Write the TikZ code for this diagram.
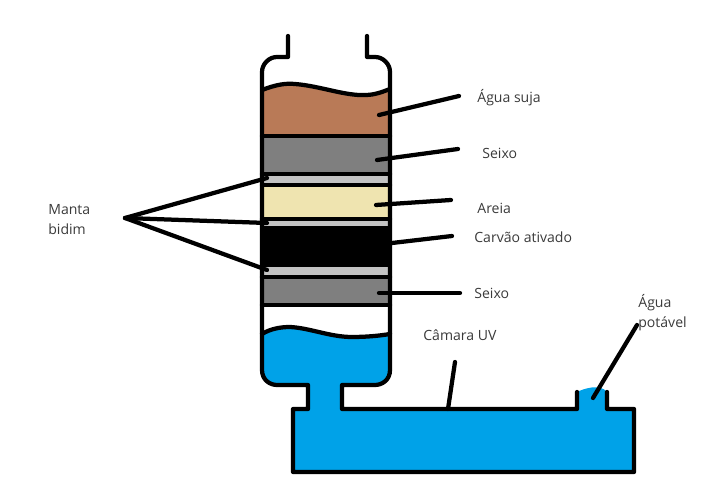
\documentclass[tikz,border=0pt]{standalone}
\usepackage{fontspec}
\setmainfont{Open Sans}
\definecolor{suja}{HTML}{B97A57}
\definecolor{seixo}{HTML}{7F7F7F}
\definecolor{manta}{HTML}{C3C3C3}
\definecolor{areia}{HTML}{EFE4B0}
\definecolor{agua}{HTML}{00A2E8}
\definecolor{texto}{HTML}{3A3A3A}
\tikzset{
  parede/.style={line width=0.085cm, line cap=round, line join=round},
  guia/.style={line width=0.085cm, line cap=round},
  rotulo/.style={text=texto, font=\fontsize{8pt}{11.4pt}\selectfont, inner sep=0pt, align=left}
}
\begin{document}
\begin{tikzpicture}[x=0.02cm, y=-0.02cm]
  \useasboundingbox (0,0) rectangle (723,492);

  % Camadas
  \fill[suja] (262,90) .. controls (275,85) and (285,83) .. (295,84) .. controls (320,86) and (345,96) .. (365,95) .. controls (375,95) and (382,92) .. (390,89) -- (390,136) -- (262,136) -- cycle;
  \fill[seixo] (262,136) rectangle (390,174);
  \fill[manta] (262,174) rectangle (390,185);
  \fill[areia] (262,185) rectangle (390,219);
  \fill[manta] (262,219) rectangle (390,226);
  \fill[black] (262,226) rectangle (390,267);
  \fill[manta] (262,267) rectangle (390,277);
  \fill[seixo] (262,277) rectangle (390,305);

  % Agua filtrada e camara
  \fill[agua] (262,334) .. controls (270,329) and (280,327) .. (290,327) .. controls (310,328) and (330,337) .. (352,337) .. controls (365,337) and (378,336) .. (390,334) -- (390,370) .. controls (390,380) and (382,385) .. (375,385) -- (342,385) -- (342,409) -- (577,409) -- (577,392) .. controls (583,389) and (600,383) .. (607,392) -- (607,409) -- (634,409) -- (634,472) -- (293,472) -- (293,409) -- (308,409) -- (308,385) -- (277,385) .. controls (270,385) and (262,380) .. (262,370) -- cycle;

  % Linhas das camadas
  \draw[parede] (262,90) .. controls (275,85) and (285,83) .. (295,84) .. controls (320,86) and (345,96) .. (365,95) .. controls (375,95) and (382,92) .. (390,89);
  \draw[parede] (262,136) -- (390,136);
  \draw[parede] (262,174) -- (390,174);
  \draw[parede] (262,185) -- (390,185);
  \draw[parede] (262,219) -- (390,219);
  \draw[parede] (262,277) -- (390,277);
  \draw[parede] (262,305) -- (390,305);
  \draw[parede] (262,334) .. controls (270,329) and (280,327) .. (290,327) .. controls (310,328) and (330,337) .. (352,337) .. controls (365,337) and (378,336) .. (390,334);

  % Contorno
  \draw[parede] (288,36) -- (288,57) -- (277,57) .. controls (269,57) and (262,64) .. (262,72) -- (262,370) .. controls (262,380) and (270,385) .. (277,385) -- (308,385) -- (308,409) -- (293,409) -- (293,472) -- (634,472) -- (634,409) -- (607,409) -- (607,392);
  \draw[parede] (367,36) -- (367,57) -- (375,57) .. controls (383,57) and (390,64) .. (390,72) -- (390,370) .. controls (390,380) and (382,385) .. (375,385) -- (342,385) -- (342,409) -- (577,409) -- (577,392);

  % Rotulos
  \node[rotulo, anchor=west] (suja) at (477,98) {Água suja};
  \node[rotulo, anchor=west] (seixoa) at (482,153) {Seixo};
  \node[rotulo, anchor=west] (are) at (477,208) {Areia};
  \node[rotulo, anchor=west] (carvao) at (474,237) {Carvão ativado};
  \node[rotulo, anchor=west] (seixob) at (474,293) {Seixo};
  \node[rotulo, anchor=west] (uv) at (423,335) {Câmara UV};
  \node[rotulo, anchor=west] (potavel) at (638,313) {Água\\potável};
  \node[rotulo, anchor=west] (bidim) at (48,220) {Manta\\bidim};

  % Pontas das guias
  \coordinate (sujaA) at (459,96);
  \coordinate (sujaB) at (379,115);
  \coordinate (seixoaA) at (458,149);
  \coordinate (seixoaB) at (377,160);
  \coordinate (areA) at (451,200);
  \coordinate (areB) at (376,205);
  \coordinate (carvaoA) at (452,236);
  \coordinate (carvaoB) at (392,243);
  \coordinate (seixobA) at (460,293);
  \coordinate (seixobB) at (379,293);
  \coordinate (uvA) at (455,362);
  \coordinate (uvB) at (448,409);
  \coordinate (potavelA) at (637,325);
  \coordinate (potavelB) at (593,398);
  \coordinate (centro) at (125,218);
  \coordinate (mantaA) at (267,178);
  \coordinate (mantaB) at (267,223);
  \coordinate (mantaC) at (267,270);

  \draw[guia] (sujaA) -- (sujaB);
  \draw[guia] (seixoaA) -- (seixoaB);
  \draw[guia] (areA) -- (areB);
  \draw[guia] (carvaoA) -- (carvaoB);
  \draw[guia] (seixobA) -- (seixobB);
  \draw[guia] (uvA) -- (uvB);
  \draw[guia] (potavelA) -- (potavelB);
  \draw[guia] (centro) -- (mantaA);
  \draw[guia] (centro) -- (mantaB);
  \draw[guia] (centro) -- (mantaC);
\end{tikzpicture}
\end{document}
